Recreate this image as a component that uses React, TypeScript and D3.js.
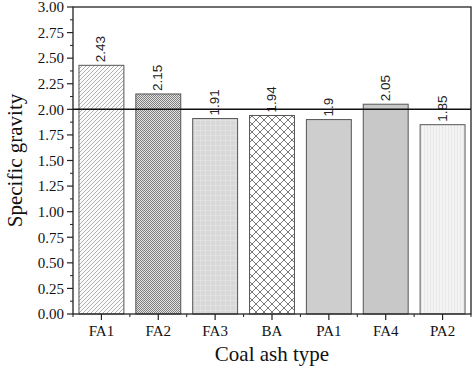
import React from "react"
import * as d3 from "d3"

const categories = ["FA1", "FA2", "FA3", "BA", "PA1", "FA4", "PA2"]
const values = [2.43, 2.15, 1.91, 1.94, 1.9, 2.05, 1.85]
const fills = ["url(#hatchDiag)", "url(#checker)", "url(#gridLight)", "url(#crossHatch)", "#cecece", "#c8c8c8", "url(#vLines)"]
const yTicks = d3.range(0, 3.001, 0.25)
const refLine = 2.0

const W = 474
const H = 368
const margin = { left: 73, right: 3, top: 7, bottom: 54 }

export default function App() {
  const x = d3.scaleBand<string>()
    .domain(categories)
    .range([margin.left, W - margin.right])
    .paddingInner(0.21)
    .paddingOuter(0.105)
  const y = d3.scaleLinear().domain([0, 3]).range([H - margin.bottom, margin.top])

  const x0 = margin.left
  const x1 = W - margin.right
  const y0 = y(0)
  const yTop = y(3)
  const minorY = d3.range(0.125, 3, 0.25)
  const edges = d3.range(0, categories.length + 1).map(i => x0 + i * (x1 - x0) / categories.length)
  const serif = "'Liberation Serif', 'Times New Roman', serif"

  return (
    <svg width={W} height={H} style={{ position: "absolute", left: 0, top: 0, background: "#fff" }}>
      <defs>
        <pattern id="hatchDiag" width="4" height="4" patternUnits="userSpaceOnUse">
          <rect width="4" height="4" fill="#fcfcfc" />
          <path d="M-1,1 l2,-2 M0,4 l4,-4 M3,5 l2,-2" stroke="#999" strokeWidth="0.8" />
        </pattern>
        <pattern id="checker" width="2" height="2" patternUnits="userSpaceOnUse">
          <rect width="2" height="2" fill="#e2e2e2" />
          <rect width="1" height="1" fill="#808080" />
          <rect x="1" y="1" width="1" height="1" fill="#808080" />
        </pattern>
        <pattern id="gridLight" width="5" height="5" patternUnits="userSpaceOnUse">
          <rect width="5" height="5" fill="#d8d8d8" />
          <path d="M0,0 H5 M0,0 V5" stroke="#e8e8e8" strokeWidth="1" />
        </pattern>
        <pattern id="crossHatch" width="8" height="8" patternUnits="userSpaceOnUse">
          <rect width="8" height="8" fill="#fff" />
          <path d="M0,0 L8,8 M8,0 L0,8 M-1,7 L1,9 M7,-1 L9,1 M-1,1 L1,-1 M7,9 L9,7" stroke="#555" strokeWidth="0.8" />
        </pattern>
        <pattern id="vLines" width="3" height="3" patternUnits="userSpaceOnUse">
          <rect width="3" height="3" fill="#f4f4f4" />
          <path d="M1.5,0 V3" stroke="#e8e8e8" strokeWidth="1" />
        </pattern>
      </defs>

      {/* bars */}
      {categories.map((c, i) => (
        <rect key={c}
          x={x(c)} y={y(values[i])} width={x.bandwidth()} height={y0 - y(values[i])}
          fill={fills[i]} stroke="#555" strokeWidth={1} />
      ))}

      {/* value labels */}
      {categories.map((c, i) => {
        const cx = (x(c) as number) + x.bandwidth() / 2 + 4
        const cy = y(values[i]) - 3
        return (
          <text key={c} transform={`translate(${cx},${cy}) rotate(-90)`}
            fontFamily="'Liberation Sans Narrow', 'Liberation Sans', Arial, sans-serif" fontSize={13.5} fill="#222">
            {String(values[i])}
          </text>
        )
      })}

      {/* reference line */}
      <line x1={x0} x2={x1} y1={y(refLine)} y2={y(refLine)} stroke="#111" strokeWidth={1.5} />

      {/* frame */}
      <rect x={x0} y={yTop} width={x1 - x0} height={y0 - yTop} fill="none" stroke="#222" strokeWidth={1.3} />

      {/* y ticks */}
      {yTicks.map(t => (
        <g key={t}>
          <line x1={x0 - 6} x2={x0} y1={y(t)} y2={y(t)} stroke="#222" strokeWidth={1.2} />
          <text x={x0 - 9} y={y(t)} dy="0.35em" textAnchor="end"
            fontFamily={serif} fontSize={15} fill="#111">
            {t.toFixed(2)}
          </text>
        </g>
      ))}
      {minorY.map(t => (
        <line key={t} x1={x0 - 3} x2={x0} y1={y(t)} y2={y(t)} stroke="#222" strokeWidth={1} />
      ))}

      {/* x ticks */}
      {categories.map(c => {
        const cx = (x(c) as number) + x.bandwidth() / 2
        return (
          <g key={c}>
            <line x1={cx} x2={cx} y1={y0} y2={y0 + 6} stroke="#222" strokeWidth={1.2} />
            <text x={cx} y={y0 + 22} textAnchor="middle"
              fontFamily={serif} fontSize={15} fill="#111">
              {c}
            </text>
          </g>
        )
      })}
      {edges.map(e => (
        <line key={e} x1={e} x2={e} y1={y0} y2={y0 + 3} stroke="#222" strokeWidth={1} />
      ))}

      {/* axis titles */}
      <text transform={`translate(22,${(yTop + y0) / 2}) rotate(-90)`} textAnchor="middle"
        fontFamily={serif} fontSize={21} fill="#111">
        Specific gravity
      </text>
      <text x={(x0 + x1) / 2} y={361} textAnchor="middle"
        fontFamily={serif} fontSize={21} fill="#111">
        Coal ash type
      </text>
    </svg>
  )
}
